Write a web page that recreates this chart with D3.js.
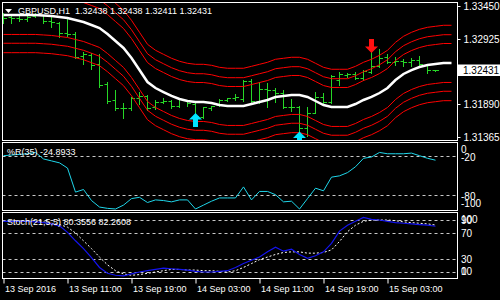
<!DOCTYPE html>
<html><head><meta charset="utf-8">
<script src="https://cdn.jsdelivr.net/npm/d3@7"></script>
<style>
body{margin:0;background:#000;}
svg{display:block;}
text{font-family:"Liberation Sans",Arial,sans-serif;white-space:pre;}
</style>
</head><body>
<svg id="c" width="500" height="300"></svg>
<script>
// ---------- DATA ----------
const symbolTitle = "GBPUSD,H1  1.32438 1.32438 1.32411 1.32431";
const opens  = [1.33291,1.33275,1.33259,1.33243,1.33291,1.33307,1.33211,1.33179,1.33020,1.33004,
                1.32654,1.32670,1.32527,1.32209,1.31954,1.31827,1.31827,1.31986,1.32018,1.31843,
                1.31922,1.31938,1.31859,1.31954,1.31890,1.31684,1.31827,1.31874,1.31954,1.31986,
                1.31970,1.32256,1.31938,1.32129,1.32113,1.32065,1.31843,1.31843,1.31509,1.31747,
                1.32002,1.31922,1.32272,1.32352,1.32368,1.32304,1.32400,1.32495,1.32639,1.32559,
                1.32575,1.32559,1.32591,1.32511,1.32438];
const highs  = [1.33339,1.33307,1.33307,1.33339,1.33339,1.33307,1.33275,1.33195,1.33275,1.33036,
                1.32718,1.32702,1.32686,1.32240,1.32113,1.31906,1.32002,1.32081,1.32034,1.31954,
                1.31986,1.31954,1.31986,1.31954,1.31906,1.31843,1.31859,1.31970,1.31986,1.32050,
                1.32272,1.32288,1.32240,1.32225,1.32145,1.32113,1.31970,1.31859,1.31843,1.32081,
                1.32065,1.32352,1.32400,1.32384,1.32400,1.32431,1.32718,1.32766,1.32686,1.32639,
                1.32606,1.32622,1.32654,1.32527,1.32438];
const lows   = [1.33179,1.33179,1.33211,1.33211,1.33275,1.33179,1.33116,1.32957,1.32973,1.32622,
                1.32527,1.32447,1.32161,1.31906,1.31795,1.31668,1.31795,1.31890,1.31795,1.31811,
                1.31906,1.31827,1.31843,1.31859,1.31684,1.31668,1.31795,1.31859,1.31938,1.31954,
                1.31938,1.31906,1.31906,1.31843,1.31922,1.31827,1.31779,1.31429,1.31381,1.31747,
                1.31906,1.31906,1.32193,1.32320,1.32288,1.32272,1.32384,1.32479,1.32543,1.32511,
                1.32495,1.32495,1.32511,1.32384,1.32411];
const closes = [1.33259,1.33259,1.33243,1.33275,1.33307,1.33211,1.33195,1.33020,1.33004,1.32639,
                1.32686,1.32511,1.32193,1.31938,1.31827,1.31827,1.31986,1.32018,1.31827,1.31922,
                1.31938,1.31859,1.31970,1.31906,1.31700,1.31843,1.31859,1.31954,1.31986,1.32002,
                1.32256,1.31938,1.32129,1.32113,1.32065,1.31843,1.31843,1.31509,1.31747,1.32002,
                1.31922,1.32336,1.32368,1.32368,1.32304,1.32416,1.32495,1.32622,1.32559,1.32575,
                1.32559,1.32591,1.32527,1.32431,1.32431];
// moving average (drawn shifted 2 bars forward, so 57 slots)
const maLine = [1.33307,1.33307,1.33307,1.33307,1.33307,1.33299,1.33291,1.33275,1.33259,1.33227,
                1.33195,1.33148,1.33100,1.33004,1.32893,1.32782,1.32622,1.32431,1.32240,1.32145,
                1.32081,1.32018,1.31970,1.31938,1.31922,1.31922,1.31906,1.31874,1.31859,1.31859,
                1.31859,1.31890,1.31922,1.31954,1.32002,1.32018,1.32034,1.32034,1.32002,1.31938,
                1.31874,1.31843,1.31843,1.31843,1.31890,1.31954,1.32002,1.32065,1.32145,1.32272,
                1.32368,1.32431,1.32479,1.32511,1.32527,1.32543,1.32543];
const bandOffsets = [0.0031, 0.0045, 0.0060];
const upArrows = [{i:24, price:1.31747}, {i:37, price:1.31453}];
const downArrows = [{i:46, price:1.32702}];
const priceTicks = [1.33450, 1.32925, 1.31890, 1.31365];
const lastPrice = 1.32431;

const wprTitle = "%R(35) -24.8933";
const wpr = [-18,-17,-16,-15,-13,-23,-26,-29,-37,-74,
             -70,-87,-97,-99,-100,-94,-84,-82,-90,-86,
             -87,-89,-86,-86,-100,-94,-88,-83,-83,-83,
             -66,-86,-73,-73,-78,-89,-88,-100,-84,-68,
             -72,-51,-49,-44,-35,-22,-20,-13,-15,-15,
             -15,-14,-18,-22,-24.89];
const wprLevels = [-20, -80];
const wprLabels = [0, -20, -80, -100];

const stochTitle = "Stoch(21,5,5) 80.3556 82.2608";
const stochMain = [88,88,88,88,87,86,84,81,71,58,
                   46,32,17,8,5,4,7,10,12,14,
                   16,15,14,13,11,10,10,11,12,17,
                   23,28,33,41,48,42,45,37,31,35,
                   41,54,73,82,88,94,91,90,88,86,
                   85,84,83,82,80.36];
const stochSignal = [88,88,88,88,88,87,85,83,79,70,
                     58,46,33,21,12,7,5,6,8,10,
                     12,14,14,13,13,12,12,11,10,12,
                     17,23,29,33,37,40,41,41,39,39,
                     40,44,57,72,82,88,90,90,90,89,
                     87,86,85,84,82.26];
const stochLevels = [90, 70, 30, 10];
const stochLabels = [100, 90, 70, 30, 10, 0];

const timeTickIdx = [0, 8, 16, 24, 32, 40, 48];
const timeTickLabels = ["13 Sep 2016","13 Sep 11:00","13 Sep 19:00","14 Sep 03:00","14 Sep 11:00","14 Sep 19:00","15 Sep 03:00"];

// ---------- LAYOUT ----------
const svg = d3.select("#c");
svg.append("rect").attr("width",500).attr("height",300).attr("fill","#000");
const P = {left:2.5, right:457.5};
const main = {top:2.5, bottom:140.5};
const pW = {top:142.5, bottom:210.5};
const pS = {top:212.5, bottom:278.5};

const x = d3.scaleLinear().domain([0, 56]).range([3.5, 451.5]);
const yP = d3.scaleLinear().domain([1.31365, 1.33450]).range([137, 6]);
const yW = d3.scaleLinear().domain([-100, 0]).range([209, 144]);
const yS = d3.scaleLinear().domain([0, 100]).range([278.5, 213.5]);
const crisp = v => Math.round(v) + 0.5;

function clip(id, p){
  svg.append("clipPath").attr("id",id).append("rect")
    .attr("x",P.left+0.5).attr("y",p.top+0.5).attr("width",P.right-P.left-1).attr("height",p.bottom-p.top-1);
}
clip("cm", main); clip("cw", pW); clip("cs", pS);

// ---------- MAIN PANEL ----------
const gm = svg.append("g").attr("clip-path","url(#cm)");
const green = "#26d626";
const bars = gm.append("g").attr("stroke", green).attr("stroke-width",1);
d3.range(opens.length).forEach(i=>{
  const cx = x(i);
  bars.append("line").attr("x1",cx).attr("x2",cx).attr("y1",Math.round(yP(highs[i]))).attr("y2",Math.round(yP(lows[i]))+1);
  bars.append("line").attr("x1",cx-3).attr("x2",cx).attr("y1",crisp(yP(opens[i]))).attr("y2",crisp(yP(opens[i])));
  bars.append("line").attr("x1",cx).attr("x2",cx+3.5).attr("y1",crisp(yP(closes[i]))).attr("y2",crisp(yP(closes[i])));
});

bandOffsets.forEach(d=>{
  [1,-1].forEach(s=>{
    gm.append("path").datum(maLine)
      .attr("fill","none").attr("stroke","#ff0000").attr("stroke-width",1)
      .attr("d", d3.line().x((v,i)=>x(i)).y(v=>yP(v + s*d)));
  });
});
gm.append("path").datum(maLine)
  .attr("fill","none").attr("stroke","#ffffff").attr("stroke-width",2.5)
  .attr("d", d3.line().x((v,i)=>x(i)).y(v=>yP(v)));

const upPath = "M0,0 L6.5,6.5 L2.5,6.5 L2.5,14 L-2.5,14 L-2.5,6.5 L-6.5,6.5 Z";
const downPath = "M0,0 L6.5,-6.5 L2.5,-6.5 L2.5,-14 L-2.5,-14 L-2.5,-6.5 L-6.5,-6.5 Z";
upArrows.forEach(a=>{
  gm.append("path").attr("d",upPath).attr("fill","#00e5ff")
    .attr("transform",`translate(${x(a.i)},${yP(a.price)})`);
});
downArrows.forEach(a=>{
  gm.append("path").attr("d",downPath).attr("fill","#ff1010")
    .attr("transform",`translate(${x(a.i)},${yP(a.price)})`);
});

// title
svg.append("path").attr("d","M5,9 L12,9 L8.5,13 Z").attr("fill","#fff");
svg.append("text").attr("x",18).attr("y",14).attr("fill","#fff").attr("font-size",9).text(symbolTitle);

// price axis
const pAxis = svg.append("g").attr("transform",`translate(${P.right},0)`)
  .call(d3.axisRight(yP).tickValues(priceTicks).tickFormat(d3.format(".5f")).tickSize(3).tickPadding(3));
pAxis.select(".domain").remove();
pAxis.selectAll("line").attr("stroke","#fff");
pAxis.selectAll("text").attr("fill","#fff").attr("font-size",10).attr("font-family","Liberation Sans, Arial, sans-serif");
svg.append("rect").attr("x",458).attr("y",Math.round(yP(lastPrice))-5.5).attr("width",42).attr("height",11.5).attr("fill","#fff");
svg.append("text").attr("x",463).attr("y",yP(lastPrice)+3.6).attr("fill","#000").attr("font-size",10).text(d3.format(".5f")(lastPrice));

// ---------- %R PANEL ----------
const gw = svg.append("g").attr("clip-path","url(#cw)");
wprLevels.forEach(l=>{
  gw.append("line").attr("x1",P.left).attr("x2",P.right).attr("y1",crisp(yW(l))-1).attr("y2",crisp(yW(l))-1)
    .attr("stroke","#c8c8c8").attr("stroke-dasharray","3,3");
});
gw.append("path").datum(wpr).attr("fill","none").attr("stroke","#1fd6ea").attr("stroke-width",1)
  .attr("d", d3.line().x((v,i)=>x(i)).y(v=>yW(v)));
svg.append("text").attr("x",7).attr("y",155).attr("fill","#fff").attr("font-size",9).text(wprTitle);
wprLabels.forEach(v=>{
  const yy = Math.max(pW.top+6.5, Math.min(pW.bottom-7, yW(v)));
  svg.append("text").attr("x",461).attr("y",yy+3.5).attr("fill","#fff").attr("font-size",10).text(v);
});

// ---------- STOCH PANEL ----------
const gs = svg.append("g").attr("clip-path","url(#cs)");
stochLevels.forEach(l=>{
  gs.append("line").attr("x1",P.left).attr("x2",P.right).attr("y1",crisp(yS(l))).attr("y2",crisp(yS(l)))
    .attr("stroke","#c8c8c8").attr("stroke-dasharray","3,3");
});
gs.append("path").datum(stochSignal).attr("fill","none").attr("stroke","#ffffff").attr("stroke-width",1)
  .attr("stroke-dasharray","2,2")
  .attr("d", d3.line().x((v,i)=>x(i)).y(v=>yS(v)));
gs.append("path").datum(stochMain).attr("fill","none").attr("stroke","#1414f0").attr("stroke-width",1.2)
  .attr("d", d3.line().x((v,i)=>x(i)).y(v=>yS(v)));
svg.append("text").attr("x",7).attr("y",225).attr("fill","#fff").attr("font-size",9).text(stochTitle);
stochLabels.forEach(v=>{
  const yy = Math.max(pS.top+6.5, Math.min(pS.bottom-7, yS(v)));
  svg.append("text").attr("x",461).attr("y",yy+3.5).attr("fill","#fff").attr("font-size",10).text(v);
});

// ---------- PANEL BORDERS ----------
[main, pW, pS].forEach(p=>{
  svg.append("rect").attr("x",P.left).attr("y",p.top).attr("width",P.right-P.left).attr("height",p.bottom-p.top)
    .attr("fill","none").attr("stroke","#fff").attr("stroke-width",1);
});

// ---------- TIME AXIS ----------
const tAxis = svg.append("g").attr("transform",`translate(0,${pS.bottom})`)
  .call(d3.axisBottom(x).tickValues(timeTickIdx).tickFormat((d,i)=>timeTickLabels[i]).tickSize(5));
tAxis.select(".domain").remove();
tAxis.selectAll("line").attr("stroke","#fff");
tAxis.selectAll("text").attr("fill","#fff").attr("font-size",9).attr("font-family","Liberation Sans, Arial, sans-serif")
  .attr("text-anchor","start").attr("x",1).attr("y",13).attr("dy",0);
</script>
</body></html>
